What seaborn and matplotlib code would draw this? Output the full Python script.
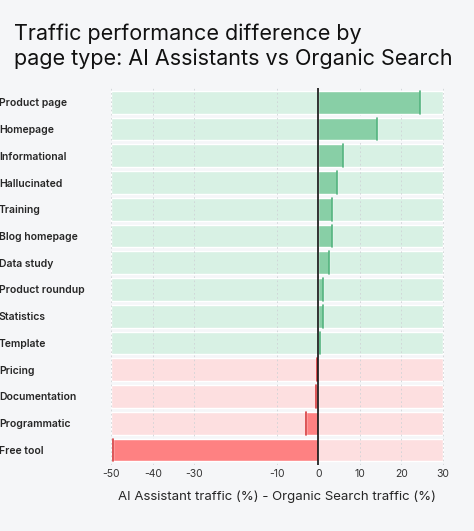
import numpy as np
import pandas as pd
import seaborn as sns
import matplotlib.pyplot as plt

# page types and differences (AI share - organic share, percentage points)
pages = ["Product page", "Homepage", "Informational", "Hallucinated", "Training",
         "Blog homepage", "Data study", "Product roundup", "Statistics", "Template",
         "Pricing", "Documentation", "Programmatic", "Free tool"]
diff = [24.5, 14.0, 5.8, 4.5, 3.2, 3.2, 2.5, 1.2, 1.2, 0.3, -0.3, -0.7, -3.0, -49.5]
ticks = [-50, -40, -30, -10, 0, 10, 20, 30]

df = pd.DataFrame({"page": pages, "diff": diff})
df["sign"] = np.where(df["diff"] >= 0, "pos", "neg")

sns.set_style("white")
plt.rcParams["font.family"] = ["Inter", "DejaVu Sans"]
bg = "#f5f6f8"
fig, ax = plt.subplots(figsize=(4.74, 5.31), dpi=100)
fig.patch.set_facecolor(bg)
ax.set_facecolor(bg)
fig.subplots_adjust(left=0.226, right=0.943, top=0.835, bottom=0.125)

light = {"pos": "#d8f1e4", "neg": "#fddfe0"}
dark = {"pos": "#88cfa6", "neg": "#fe8182"}
edge = {"pos": "#4fb27c", "neg": "#d63a3c"}

# full-width background bands
for i, r in df.iterrows():
    ax.barh(i, 80, left=-50, height=0.85, color=light[r["sign"]], zorder=0)

sns.barplot(data=df, y="page", x="diff", hue="sign", palette=dark, orient="h",
            width=0.85, saturation=1, legend=False, ax=ax, zorder=2)
for i, r in df.iterrows():
    ax.plot([r["diff"], r["diff"]], [i - 0.425, i + 0.425], color=edge[r["sign"]], lw=1.2, zorder=3)

for t in ticks:
    ax.axvline(t, color="#cfd3d6", ls=(0, (2, 3)), lw=0.6, zorder=1)
ax.axvline(0, color="#111", lw=1.2, zorder=4)

ax.set_xlim(-51, 31)
ax.set_ylim(13.55, -0.55)
ax.set_xticks(ticks)
ax.set_xticklabels([str(t) for t in ticks])
ax.tick_params(axis="x", labelsize=7.5, colors="#333", length=0)
ax.tick_params(axis="y", labelsize=7.5, length=0, pad=78)
for lab in ax.get_yticklabels():
    lab.set_fontweight("semibold")
    lab.set_horizontalalignment("left")
ax.set_ylabel("")
ax.set_xlabel("AI Assistant traffic (%) - Organic Search traffic (%)", fontsize=9.5, labelpad=8)
sns.despine(ax=ax, left=True, bottom=True)

fig.text(0.03, 0.87, "Traffic performance difference by\npage type: AI Assistants vs Organic Search",
         fontsize=15.5, ha="left", va="bottom", linespacing=1.25, color="#111")

fig.savefig("out.png", dpi=100, facecolor=bg)
